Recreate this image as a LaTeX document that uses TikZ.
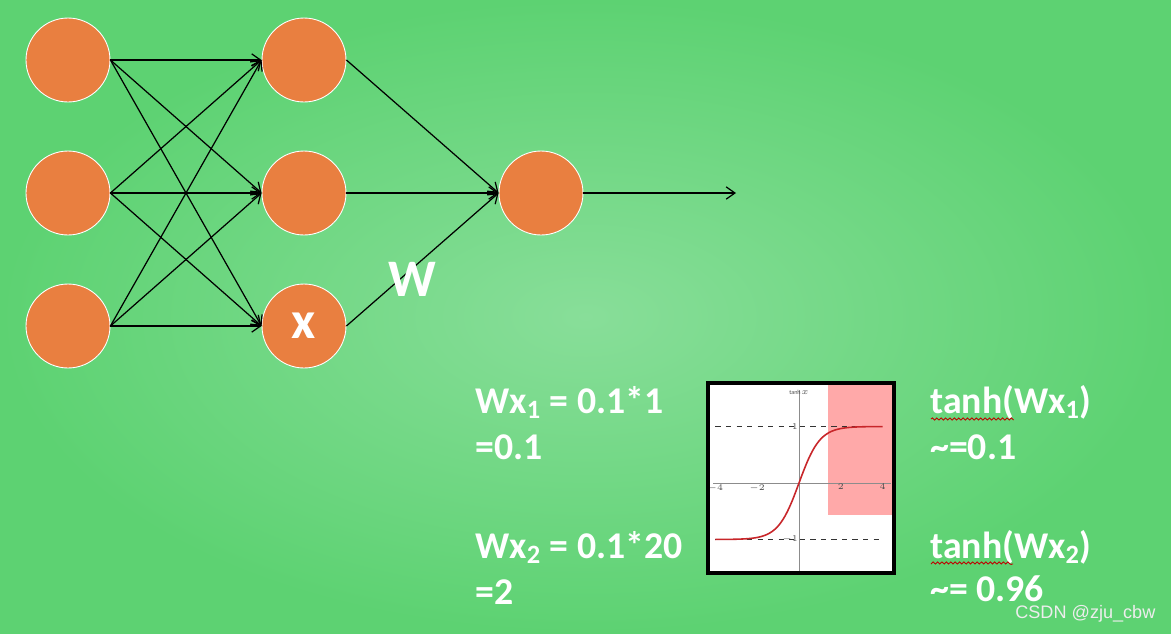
\documentclass[tikz,border=0pt]{standalone}
\usepackage{fontspec}
\setmainfont{Carlito}
\newfontfamily\marksans{Liberation Sans}
\usepackage{tikz}
\usetikzlibrary{arrows.meta, positioning, calc, decorations.pathmorphing}
\definecolor{slidegreen}{HTML}{5DD272}
\definecolor{slidegreenlight}{HTML}{88DE99}
\definecolor{neuronorange}{HTML}{E97F40}
\definecolor{satpink}{HTML}{FFA9A9}
\definecolor{curvered}{HTML}{C8262A}
\definecolor{marktext}{HTML}{EDEDED}
\tikzset{
  neuron/.style={circle, minimum size=1.68cm, inner sep=0pt, fill=neuronorange, draw=white, line width=0.5pt},
  wire/.style={-{Straight Barb[length=5pt, width=7pt]}, line width=0.7pt, black},
  slidetext/.style={anchor=base west, inner sep=0pt, text=white, font=\bfseries\fontsize{21.5}{24}\selectfont},
  ticklab/.style={font=\fontsize{3.5}{4}\selectfont, inner sep=0.5pt, text=black!70}
}

\begin{document}
\begin{tikzpicture}[x=0.02cm, y=-0.02cm]
    \useasboundingbox (0,0) rectangle (1171,633);
    \shade[inner color=slidegreenlight, outer color=slidegreen] (0,0) rectangle (1171,633);

    % input and hidden layers
    \foreach \i/\y in {1/60, 2/193, 3/326} {
      \node[neuron] (in\i) at (68,\y) {};
      \node[neuron] (hid\i) at (304,\y) {};
    }
    \node[neuron] (out) at (541,193) {};
    \node[font=\bfseries\fontsize{30}{30}\selectfont, text=white] (xlab) at (hid3) {x};

    % fully connected weights
    \foreach \i in {1,2,3} {
      \foreach \j in {1,2,3} {
        \draw[wire] (in\i.east) -- (hid\j.west);
      }
      \draw[wire] (hid\i.east) -- (out.west);
    }
    \coordinate (outend) at (736,193);
    \draw[wire] (out.east) -- (outend);
    \node[font=\bfseries\fontsize{30}{30}\selectfont, text=white] (wlab) at (412,279) {W};

    % left column
    \node[slidetext] (wx1) at (475,413) {Wx\textsubscript{1} = 0.1*1};
    \node[slidetext] (wx1v) at (475,459) {=0.1};
    \node[slidetext] (wx2) at (475,558) {Wx\textsubscript{2} = 0.1*20};
    \node[slidetext] (wx2v) at (475,604) {=2};

    % right column
    \node[slidetext] (th1) at (930,413) {tanh(Wx\textsubscript{1})};
    \node[slidetext] (th1v) at (930,459) {\textasciitilde=0.1};
    \node[slidetext] (th2) at (930,558) {tanh(Wx\textsubscript{2})};
    \node[slidetext] (th2v) at (930,601) {\textasciitilde= 0.96};
    \draw[red!75!black, line width=0.5pt, decorate, decoration={snake, amplitude=0.6pt, segment length=2.5pt}]
      (931,419) -- (1013,419) (931,564) -- (1013,564);

    % tanh plot
    \fill[white] (708,383) rectangle (894,573);
    \fill[satpink] (828,385) rectangle (892,515);
    \begin{scope}[shift={(799,483)}, x=0.418cm, y=1.13cm]
      \draw[black!45, line width=0.4pt] (-4.1,0) -- (4.4,0);
      \draw[black!45, line width=0.4pt] (0,-1.55) -- (0,1.65);
      \draw[black!80, dashed, line width=0.5pt] (-4,1) -- (3.9,1);
      \draw[black!80, dashed, line width=0.5pt] (-4,-1) -- (3.9,-1);
      \draw[curvered, line width=0.9pt, smooth, samples=60, domain=-4:4] plot (\x, {tanh(\x)});
      \node[ticklab] (tt) at (0,1.6) {tanh\,$x$};
      \foreach \t in {-4,-2,2,4} {
        \node[ticklab, below] (tk\t) at (\t,0) {$\t$};
      }
      \node[ticklab, left] (ty1) at (0,1) {$1$};
      \node[ticklab, left] (tym) at (0,-1) {$-1$};
    \end{scope}
    \draw[black, line width=2.2pt] (708,383) rectangle (894,573);

    % watermark
    \node[anchor=base west, inner sep=0pt, text=marktext, font=\marksans\fontsize{10.3}{12}\selectfont] (mark) at (1015,618) {CSDN @zju\_cbw};
\end{tikzpicture}
\end{document}
